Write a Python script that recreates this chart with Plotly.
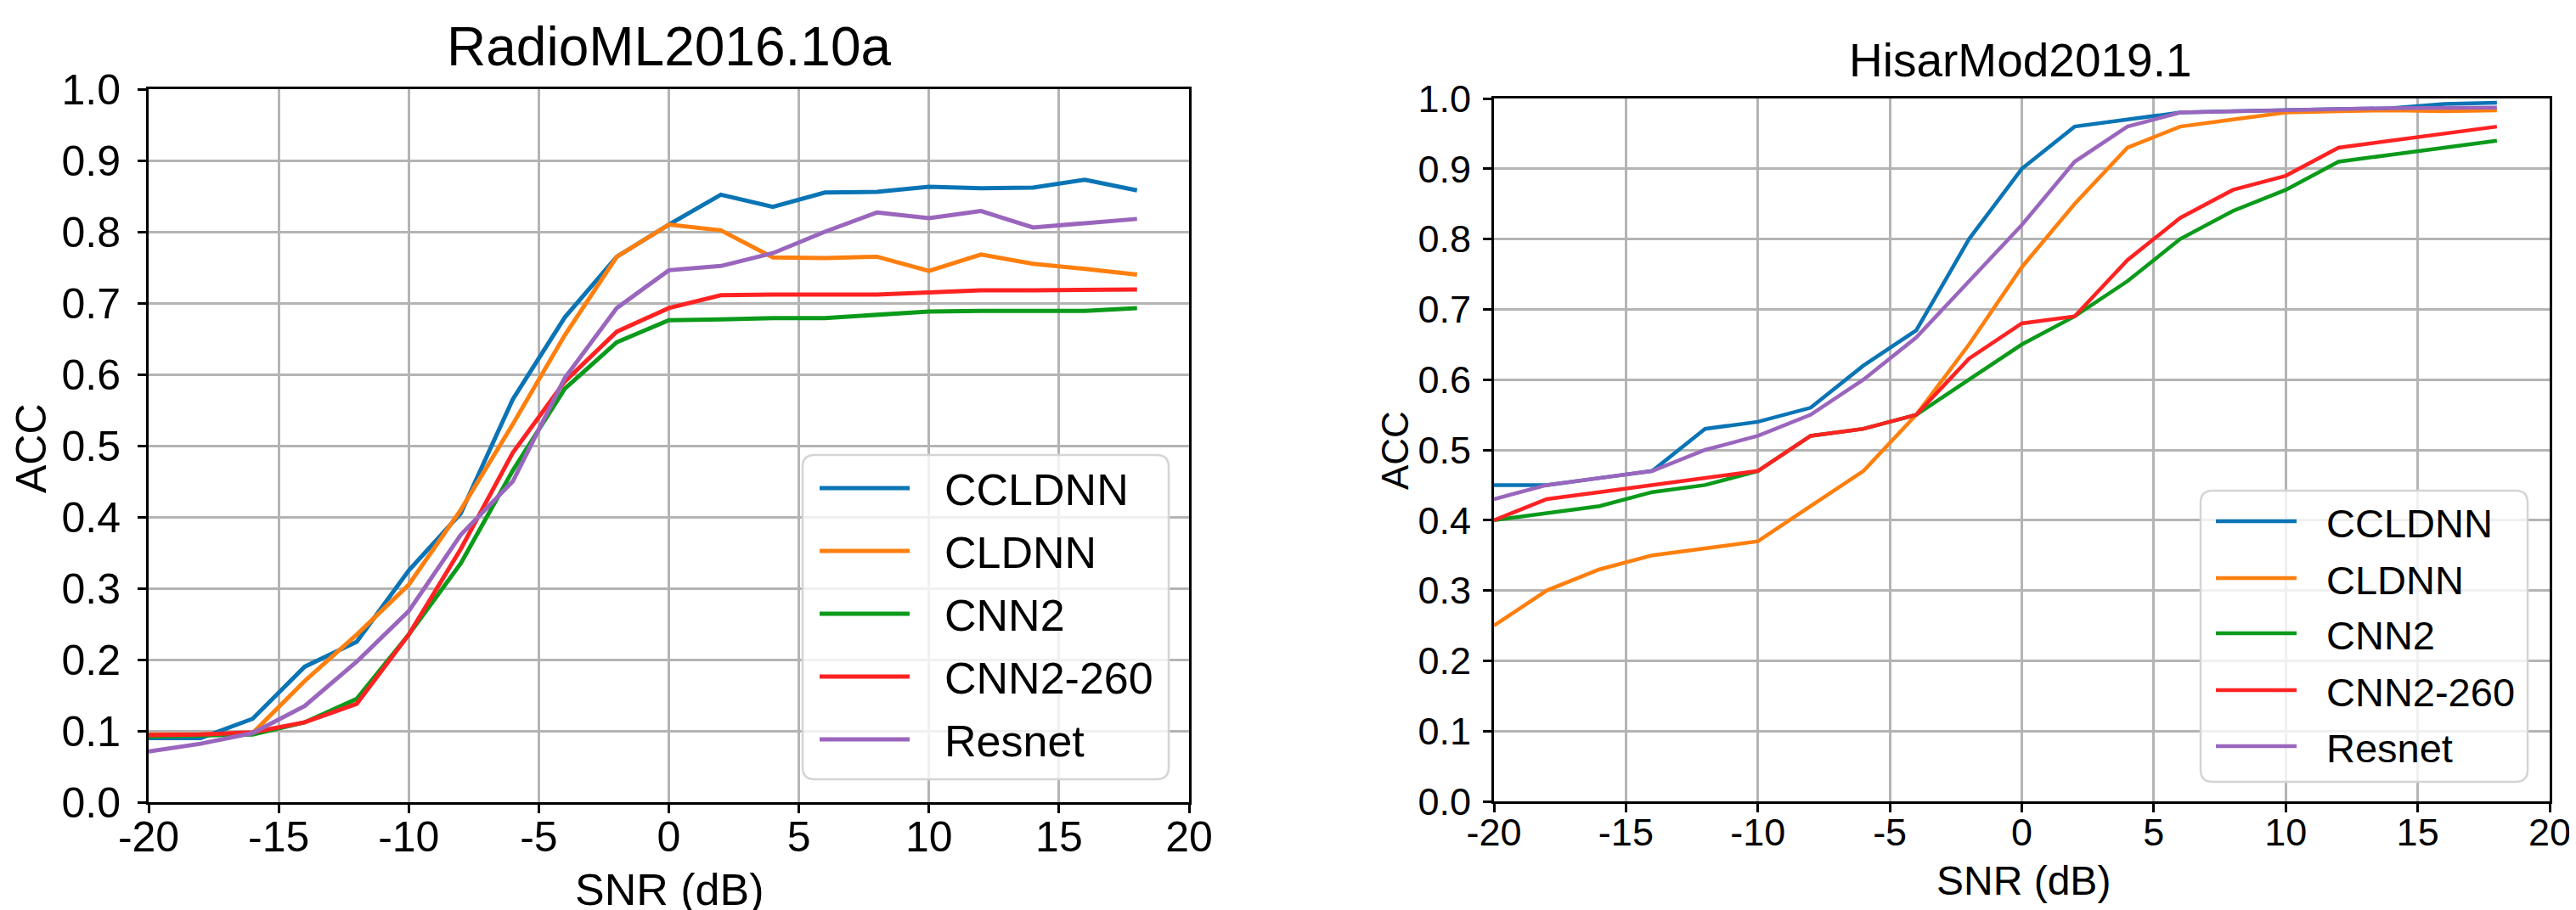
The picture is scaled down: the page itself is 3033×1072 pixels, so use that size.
import plotly.graph_objects as go

W, H = 3033, 1072

snr = list(range(-20, 20, 2))
models = ["CCLDNN", "CLDNN", "CNN2", "CNN2-260", "Resnet"]
colors = ["#0a74b5", "#ff7f0e", "#0b9a1a", "#ff2222", "#9a66bd"]

# RadioML2016.10a accuracy per SNR
radio_ccldnn = [0.090, 0.090, 0.117, 0.190, 0.225, 0.325, 0.405, 0.565, 0.680, 0.765,
                0.810, 0.852, 0.835, 0.855, 0.856, 0.863, 0.861, 0.862, 0.873, 0.858]
radio_cldnn = [0.095, 0.095, 0.097, 0.170, 0.235, 0.305, 0.410, 0.530, 0.655, 0.765,
               0.810, 0.802, 0.764, 0.763, 0.765, 0.745, 0.768, 0.755, 0.748, 0.740]
radio_cnn2 = [0.092, 0.093, 0.095, 0.112, 0.145, 0.235, 0.335, 0.465, 0.580, 0.645,
              0.676, 0.677, 0.679, 0.679, 0.683, 0.688, 0.689, 0.689, 0.689, 0.693]
radio_cnn2_260 = [0.094, 0.095, 0.098, 0.112, 0.138, 0.235, 0.355, 0.490, 0.590, 0.660,
                  0.693, 0.711, 0.712, 0.712, 0.712, 0.715, 0.718, 0.718, 0.719, 0.719]
radio_resnet = [0.071, 0.082, 0.097, 0.135, 0.197, 0.268, 0.375, 0.450, 0.595, 0.693,
                0.746, 0.752, 0.770, 0.800, 0.827, 0.819, 0.829, 0.806, 0.812, 0.818]

# HisarMod2019.1 accuracy per SNR
hisar_ccldnn = [0.45, 0.45, 0.46, 0.47, 0.53, 0.54, 0.56, 0.62, 0.67, 0.80,
                0.90, 0.96, 0.97, 0.98, 0.982, 0.984, 0.985, 0.986, 0.992, 0.994]
hisar_cldnn = [0.25, 0.30, 0.33, 0.35, 0.36, 0.37, 0.42, 0.47, 0.55, 0.65,
               0.76, 0.85, 0.93, 0.96, 0.97, 0.98, 0.982, 0.983, 0.982, 0.983]
hisar_cnn2 = [0.40, 0.41, 0.42, 0.44, 0.45, 0.47, 0.52, 0.53, 0.55, 0.60,
              0.65, 0.69, 0.74, 0.80, 0.84, 0.87, 0.91, 0.92, 0.93, 0.94]
hisar_cnn2_260 = [0.40, 0.43, 0.44, 0.45, 0.46, 0.47, 0.52, 0.53, 0.55, 0.63,
                  0.68, 0.69, 0.77, 0.83, 0.87, 0.89, 0.93, 0.94, 0.95, 0.96]
hisar_resnet = [0.43, 0.45, 0.46, 0.47, 0.50, 0.52, 0.55, 0.60, 0.66, 0.74,
                0.82, 0.91, 0.96, 0.98, 0.982, 0.984, 0.985, 0.986, 0.987, 0.987]

radio = [radio_ccldnn, radio_cldnn, radio_cnn2, radio_cnn2_260, radio_resnet]
hisar = [hisar_ccldnn, hisar_cldnn, hisar_cnn2, hisar_cnn2_260, hisar_resnet]

x_ticks = [-20, -15, -10, -5, 0, 5, 10, 15, 20]
x_labels = ["-20", "-15", "-10", "-5", "0", "5", "10", "15", "20"]
y_ticks = [round(i * 0.1, 1) for i in range(11)]
y_labels = [f"{v:.1f}" for v in y_ticks]

FONT = "Arial, Liberation Sans, sans-serif"


def fx(px):
    return px / W


def fy(py):
    return 1 - py / H


fig = go.Figure()

for vals, name, c in zip(radio, models, colors):
    fig.add_trace(go.Scatter(x=snr, y=vals, name=name, mode="lines",
                             line=dict(color=c, width=5),
                             xaxis="x", yaxis="y", showlegend=False))
for vals, name, c in zip(hisar, models, colors):
    fig.add_trace(go.Scatter(x=snr, y=vals, name=name, mode="lines",
                             line=dict(color=c, width=4.5),
                             xaxis="x2", yaxis="y2", showlegend=False))


def axis_style(size, standoff):
    return dict(showgrid=True, gridcolor="#b4b4b4", gridwidth=2.5,
                showline=True, linecolor="black", linewidth=3, mirror=True,
                ticks="outside", ticklen=10, tickwidth=3, tickcolor="black",
                zeroline=False, automargin=False, ticklabelstandoff=standoff,
                tickfont=dict(size=size, color="black", family=FONT))


fig.update_layout(
    template="none",
    width=W, height=H,
    margin=dict(l=0, r=0, t=0, b=0, pad=0),
    paper_bgcolor="white", plot_bgcolor="white",
    font=dict(family=FONT, color="black"),
    xaxis=dict(domain=[fx(167), fx(1392)], range=[-20, 20], tickvals=x_ticks,
               ticktext=x_labels, anchor="y", **axis_style(50, -15)),
    yaxis=dict(domain=[fy(937), fy(97)], range=[0, 1], tickvals=y_ticks,
               ticktext=y_labels, anchor="x", **axis_style(50, 10)),
    xaxis2=dict(domain=[fx(1751), fx(2994)], range=[-20, 20], tickvals=x_ticks,
                ticktext=x_labels, anchor="y2", **axis_style(45, -15)),
    yaxis2=dict(domain=[fy(936), fy(108)], range=[0, 1], tickvals=y_ticks,
                ticktext=y_labels, anchor="x2", **axis_style(45, 5)),
)

# titles and axis labels
texts = [
    ("RadioML2016.10a", 780, 47, 64, 0),
    ("HisarMod2019.1", 2371, 63, 55, 0),
    ("SNR (dB)", 780, 1040, 52, 0),
    ("SNR (dB)", 2374, 1029, 48, 0),
    ("ACC", 29, 520, 50, -90),
    ("ACC", 1634, 522, 44, -90),
]
for t, x, y, s, ang in texts:
    fig.add_annotation(text=t, x=fx(x), y=fy(y), xref="paper", yref="paper",
                       xanchor="center", yanchor="middle", showarrow=False,
                       textangle=ang, font=dict(size=s, color="black", family=FONT))


def rounded_box(x0, y0, x1, y1, r):
    rx, ry = r / W, r / H
    X0, X1 = fx(x0), fx(x1)
    Y0, Y1 = fy(y1), fy(y0)
    return (f"M{X0 + rx},{Y0} L{X1 - rx},{Y0} Q{X1},{Y0} {X1},{Y0 + ry} "
            f"L{X1},{Y1 - ry} Q{X1},{Y1} {X1 - rx},{Y1} L{X0 + rx},{Y1} "
            f"Q{X0},{Y1} {X0},{Y1 - ry} L{X0},{Y0 + ry} Q{X0},{Y0} {X0 + rx},{Y0} Z")


def legend(box, line_x, text_x, rows, size, lw):
    fig.add_shape(type="path", path=rounded_box(*box, 14), xref="paper", yref="paper",
                  fillcolor="rgba(255,255,255,0.8)", line=dict(color="#d4d4d4", width=2.5),
                  layer="above")
    for name, c, ry in zip(models, colors, rows):
        fig.add_shape(type="line", x0=fx(line_x[0]), x1=fx(line_x[1]), y0=fy(ry), y1=fy(ry),
                      xref="paper", yref="paper", line=dict(color=c, width=lw), layer="above")
        fig.add_annotation(text=name, x=fx(text_x), y=fy(ry + 2), xref="paper", yref="paper",
                           xanchor="left", yanchor="middle", showarrow=False,
                           font=dict(size=size, color="black", family=FONT))


legend((937, 528, 1368, 910), (957, 1063), 1102, [567, 641, 715, 789, 863], 52, 5)
legend((2583, 570, 2968, 913), (2601, 2696), 2729, [606, 673, 738, 805, 871], 47, 4.5)

fig.write_html("out.html")
